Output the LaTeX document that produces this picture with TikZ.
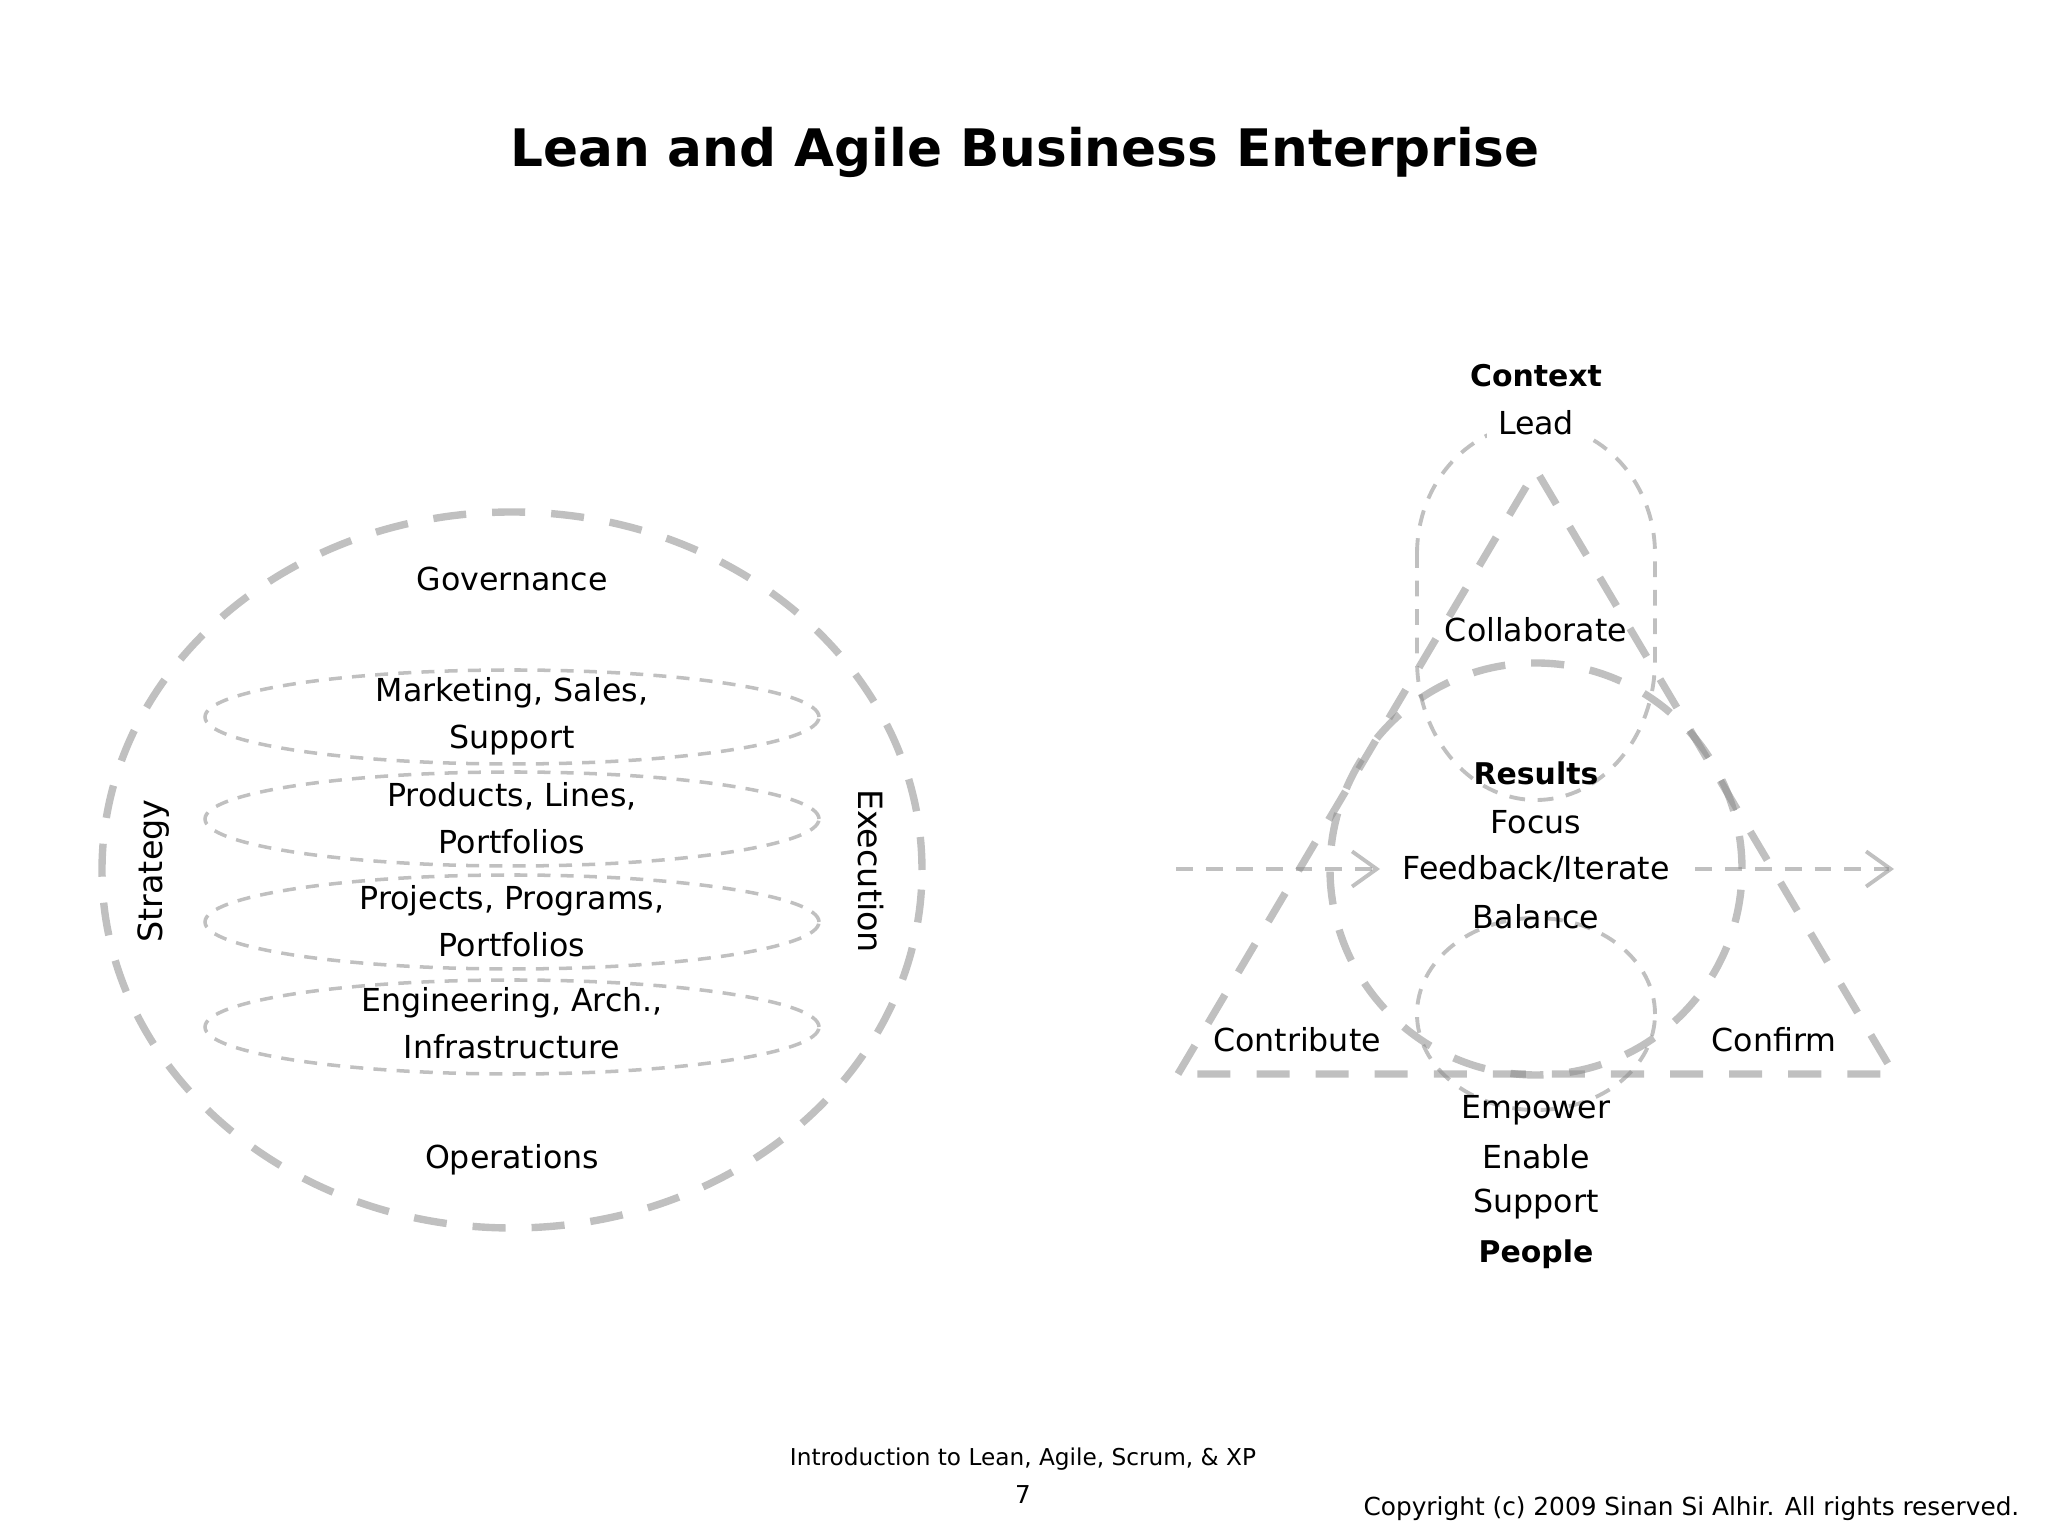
\documentclass[tikz,border=0pt]{standalone}
\usepackage{fontspec}
\setmainfont{DejaVu Sans}
\usetikzlibrary{arrows.meta}
\begin{document}
\begin{tikzpicture}[x=0.01cm,y=0.01cm,
  thickdash/.style={draw=black!45, draw opacity=0.55, line width=2.1pt, dash pattern=on 9.4pt off 7.4pt},
  thindash/.style={draw=black!45, draw opacity=0.55, line width=1pt, dash pattern=on 3.7pt off 2.9pt},
  meddash/.style={draw=black!45, draw opacity=0.55, line width=1.1pt, dash pattern=on 4.5pt off 3.6pt},
  arrowdash/.style={draw=black!45, draw opacity=0.55, line width=1.1pt, dash pattern=on 4.8pt off 3.7pt, -{Straight Barb[length=7pt,width=10pt]}},
  lbl/.style={font=\fontsize{9}{13.4}\selectfont, align=center, inner sep=1pt},
  blbl/.style={font=\fontsize{8.5}{12}\selectfont\bfseries, inner sep=1pt},
  sidelbl/.style={font=\fontsize{9.5}{12}\selectfont, inner sep=1pt},
]
\useasboundingbox (0,0) rectangle (2048,1536);

% ---------- title ----------
\node[font=\fontsize{14.7}{18}\selectfont\bfseries] (title) at (1025,1384) {Lean and Agile Business Enterprise};

% ---------- left diagram ----------
\draw[thickdash] (512,666) ellipse [x radius=410, y radius=358];
\draw[thindash] (512,819) ellipse [x radius=307, y radius=47];
\draw[thindash] (512,717) ellipse [x radius=307, y radius=47];
\draw[thindash] (512,614) ellipse [x radius=307, y radius=47];
\draw[thindash] (512,509) ellipse [x radius=307, y radius=47];

\node[lbl] (gov) at (512,957) {Governance};
\node[lbl] (mkt) at (512,820) {Marketing, Sales,\\Support};
\node[lbl] (prod) at (512,718) {Products, Lines,\\Portfolios};
\node[lbl] (proj) at (512,615) {Projects, Programs,\\Portfolios};
\node[lbl] (eng) at (512,513) {Engineering, Arch.,\\Infrastructure};
\node[lbl] (ops) at (512,376) {Operations};
\node[sidelbl, rotate=90] (strat) at (154,665) {Strategy};
\node[sidelbl, rotate=-90] (exec) at (871,665) {Execution};

% ---------- right diagram ----------
\draw[meddash] (1417,982) arc[start angle=180, end angle=0, x radius=119, y radius=130]
  -- (1655,876) arc[start angle=0, end angle=-180, x radius=119, y radius=140] -- cycle;
\draw[meddash] (1536,522) ellipse [x radius=119, y radius=96];
\draw[thickdash] (1536,667) circle [radius=206];
\draw[thickdash] (1178,462) -- (1536,1066) -- (1894,462) -- cycle;

\coordinate (fbinL) at (1176,667);
\coordinate (fbinR) at (1380,667);
\coordinate (fboutL) at (1695,667);
\coordinate (fboutR) at (1894,667);
\draw[arrowdash] (fbinL) -- (fbinR);
\draw[arrowdash] (fboutL) -- (fboutR);

\node[blbl] (context) at (1536,1160) {Context};
\node[lbl, fill=white, inner xsep=3pt] (lead) at (1536,1113) {Lead};
\node[lbl] (collab) at (1536,906) {Collaborate};
\node[blbl] (results) at (1536,763) {Results};
\node[lbl] (focus) at (1536,714) {Focus};
\node[lbl] (feedback) at (1536,667) {Feedback/Iterate};
\node[lbl] (balance) at (1536,619) {Balance};
\node[lbl] (contrib) at (1297,496) {Contribute};
\node[lbl] (confirm) at (1774,496) {Confirm};
\node[lbl] (empower) at (1536,426) {Empower};
\node[lbl] (enable) at (1536,379) {Enable};
\node[lbl] (support) at (1536,332) {Support};
\node[blbl] (people) at (1536,282) {People};

% ---------- footer ----------
\node[font=\fontsize{6.6}{8}\selectfont] (intro) at (1023,77) {Introduction to Lean, Agile, Scrum, \& XP};
\node[font=\fontsize{7}{8}\selectfont] (page) at (1023,41) {7};
\node[font=\fontsize{7.05}{9}\selectfont, anchor=east, inner sep=0pt] (copy) at (2020,27) {Copyright (c) 2009 Sinan Si Alhir. All rights reserved.};
\end{tikzpicture}
\end{document}
